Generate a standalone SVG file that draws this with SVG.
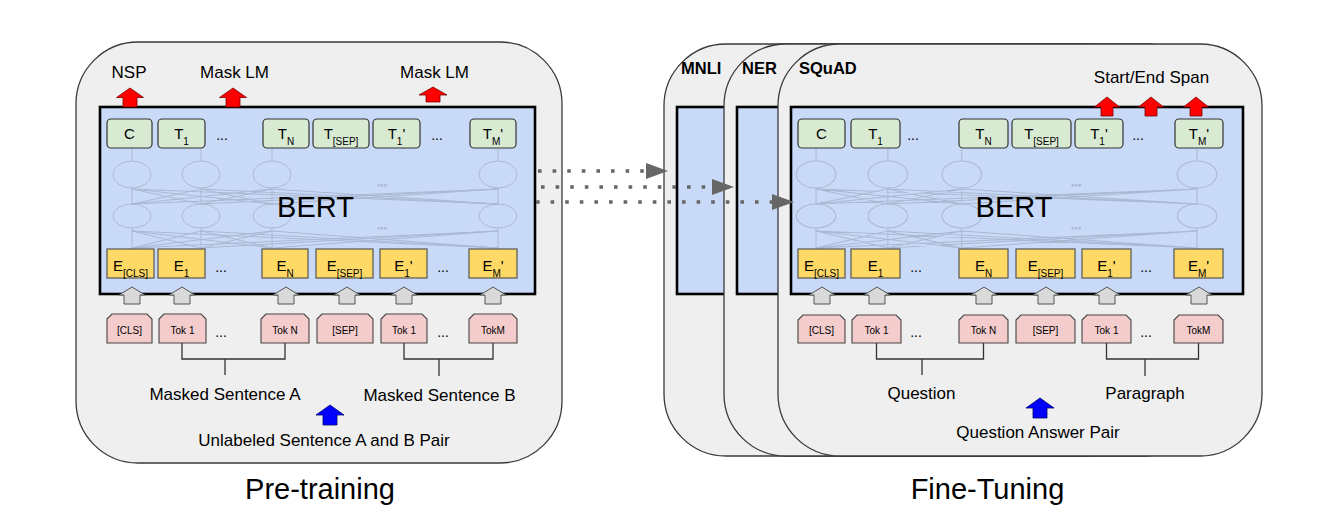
<svg xmlns="http://www.w3.org/2000/svg" width="1322" height="526" viewBox="0 0 1322 526">
<style>
text{font-family:"Liberation Sans",Arial,Helvetica,sans-serif;fill:#000}
.panel{fill:#efefef;stroke:#3a3a3a;stroke-width:1.3}
.bert{fill:#c9daf8;stroke:#000;stroke-width:2.6}
.tk{fill:#d9ead3;stroke:#333;stroke-width:1.2}
.emb{fill:#ffd966;stroke:#555;stroke-width:1.2}
.tok{fill:#f4cccc;stroke:#444;stroke-width:1.1}
.lbl{font-size:17px;text-anchor:middle}
.tl{font-size:15px;text-anchor:middle}
.sub{font-size:10px}
.pk{font-size:10px;text-anchor:middle}
.dots{font-size:14px;text-anchor:middle}
.bt{font-size:29px;text-anchor:middle}
.task{font-size:16.5px;font-weight:bold}
.cap{font-size:29px;text-anchor:middle}
.nd{font-size:12px;text-anchor:middle;fill:#aebbd4}
.red{fill:#ff0000;stroke:#7a0000;stroke-width:0.8}
.blue{fill:#0000ff;stroke:#00006e;stroke-width:0.8}
.gray{fill:#d9d9d9;stroke:#555;stroke-width:1}
.br{fill:none;stroke:#333;stroke-width:1.3}
.dot{fill:none;stroke:#666;stroke-width:3.6;stroke-dasharray:3.6 11}
</style>
<defs>
<marker id="ah" markerUnits="userSpaceOnUse" markerWidth="23" markerHeight="17" refX="0" refY="8" orient="auto"><path d="M0 0L22 8L0 16Z" fill="#666"/></marker>
<path id="redL" d="M0 0L13.5 9.5H7V19H-7V9.5H-13.5Z"/>
<path id="redL2" d="M0 0L14 8H7V15H-7V8H-14Z"/>
<path id="redR" d="M0 0L12.5 10H6V19H-6V10H-12.5Z"/>
<path id="grayA" d="M0 0L13 8H8V17H-8V8H-13Z"/>
<path id="blueA" d="M0 0L14 10H7V20H-7V10H-14Z"/>
<g id="net" fill="none" stroke="#aab8d2" stroke-width="1">
<path d="M132 248L201 231M132 248L272 231M132 248L498 231M201 248L132 231M201 248L272 231M201 248L498 231M272 248L132 231M272 248L201 231M272 248L498 231M498 248L132 231M498 248L201 231M498 248L272 231"/>
<path d="M132 204L201 189M132 204L272 189M132 204L498 189M201 204L132 189M201 204L272 189M201 204L498 189M272 204L132 189M272 204L201 189M272 204L498 189M498 204L132 189M498 204L201 189M498 204L272 189"/>
<path d="M132 249V228M201 249V228M272 249V228M498 249V228M132 204V188M201 204V188M272 204V188M498 204V188M132 161V149M201 161V149M272 161V149M498 161V149"/>
<ellipse cx="132" cy="216" rx="19" ry="12"/><ellipse cx="201" cy="216" rx="19" ry="12"/><ellipse cx="272" cy="216" rx="19" ry="12"/><ellipse cx="498" cy="216" rx="19" ry="12"/>
<ellipse cx="132" cy="174.5" rx="19" ry="13.5"/><ellipse cx="201" cy="174.5" rx="19" ry="13.5"/><ellipse cx="272" cy="174.5" rx="19" ry="13.5"/><ellipse cx="498" cy="174.5" rx="19" ry="13.5"/>
<text class="nd" x="382" y="186">...</text><text class="nd" x="382" y="229">...</text>
</g>
</defs>

<!-- Pre-training panel -->
<g id="pretrain-panel">
<rect class="panel" x="76" y="42" width="486" height="421" rx="62"/>
<text class="lbl" x="129" y="78">NSP</text>
<text class="lbl" x="234.5" y="78">Mask LM</text>
<text class="lbl" x="434.5" y="78">Mask LM</text>
<text class="lbl" x="225" y="400">Masked Sentence A</text>
<text class="lbl" x="439.5" y="401">Masked Sentence B</text>
<text class="lbl" x="324" y="446">Unlabeled Sentence A and B Pair</text>
</g>
<g id="pretrain-bert">
<rect class="bert" x="100" y="107" width="435" height="187"/>
<use href="#net"/>
<text class="bt" x="315.5" y="217">BERT</text>
</g>
<g id="pt-out">
<g id="pt-C"><rect class="tk" x="107" y="119" width="45" height="29" rx="4"/><text class="tl" x="129.5" y="139">C</text></g>
<g id="pt-T1"><rect class="tk" x="158" y="119" width="47" height="29" rx="4"/><text class="tl" x="181.5" y="139">T<tspan class="sub" dy="6">1</tspan></text></g>
<text class="dots" x="222" y="140">...</text>
<g id="pt-TN"><rect class="tk" x="263" y="119" width="46" height="29" rx="4"/><text class="tl" x="286" y="139">T<tspan class="sub" dy="6">N</tspan></text></g>
<g id="pt-TSEP"><rect class="tk" x="313" y="119" width="56" height="29" rx="4"/><text class="tl" x="341" y="139">T<tspan class="sub" dy="6">[SEP]</tspan></text></g>
<g id="pt-T1p"><rect class="tk" x="373" y="119" width="47" height="29" rx="4"/><text class="tl" x="396.5" y="139">T<tspan class="sub" dy="6">1</tspan><tspan dy="-6">'</tspan></text></g>
<text class="dots" x="437" y="140">...</text>
<g id="pt-TMp"><rect class="tk" x="470" y="119" width="46" height="29" rx="4"/><text class="tl" x="493" y="139">T<tspan class="sub" dy="6">M</tspan><tspan dy="-6">'</tspan></text></g>
</g>
<g id="pt-emb">
<g id="pt-ECLS"><rect class="emb" x="107" y="249" width="47" height="29"/><text class="tl" x="130.5" y="271">E<tspan class="sub" dy="5.5">[CLS]</tspan></text></g>
<g id="pt-E1"><rect class="emb" x="158" y="249" width="47" height="29"/><text class="tl" x="181.5" y="271">E<tspan class="sub" dy="5.5">1</tspan></text></g>
<text class="dots" x="221" y="272">...</text>
<g id="pt-EN"><rect class="emb" x="262" y="249" width="46" height="29"/><text class="tl" x="285" y="271">E<tspan class="sub" dy="5.5">N</tspan></text></g>
<g id="pt-ESEP"><rect class="emb" x="316" y="249" width="57" height="29"/><text class="tl" x="344.5" y="271">E<tspan class="sub" dy="5.5">[SEP]</tspan></text></g>
<g id="pt-E1p"><rect class="emb" x="380" y="249" width="47" height="29"/><text class="tl" x="403.5" y="271">E<tspan class="sub" dy="5.5">1</tspan><tspan dy="-5.5">'</tspan></text></g>
<text class="dots" x="443" y="272">...</text>
<g id="pt-EMp"><rect class="emb" x="469" y="249" width="48" height="29"/><text class="tl" x="493" y="271">E<tspan class="sub" dy="5.5">M</tspan><tspan dy="-5.5">'</tspan></text></g>
</g>
<g id="pt-tok">
<g id="pt-tCLS"><path class="tok" d="M107 319L112 314H147L152 319V343H107Z"/><text class="pk" x="129.5" y="334">[CLS]</text></g>
<g id="pt-tTok1"><path class="tok" d="M159 319L164 314H201L206 319V343H159Z"/><text class="pk" x="182.5" y="334">Tok 1</text></g>
<text class="dots" x="221" y="337">...</text>
<g id="pt-tTokN"><path class="tok" d="M261 319L266 314H304L309 319V343H261Z"/><text class="pk" x="285" y="334">Tok N</text></g>
<g id="pt-tSEP"><path class="tok" d="M317 319L322 314H368L373 319V343H317Z"/><text class="pk" x="345" y="334">[SEP]</text></g>
<g id="pt-tTok1b"><path class="tok" d="M381 319L386 314H422L427 319V343H381Z"/><text class="pk" x="404" y="334">Tok 1</text></g>
<text class="dots" x="443" y="337">...</text>
<g id="pt-tTokM"><path class="tok" d="M469 319L474 314H512L517 319V343H469Z"/><text class="pk" x="493" y="334">TokM</text></g>
</g>

<!-- Fine-tuning panels -->
<g id="mnli-panel">
<rect class="panel" x="664" y="44" width="484" height="412" rx="62"/>
<rect class="bert" x="677" y="107" width="452" height="187"/>
<text class="task" x="681" y="74">MNLI</text>
</g>
<g id="ner-panel">
<rect class="panel" x="724" y="44" width="484" height="412" rx="62"/>
<rect class="bert" x="737" y="107" width="452" height="187"/>
<text class="task" x="742" y="74">NER</text>
</g>
<g id="squad-panel">
<rect class="panel" x="778" y="44" width="484" height="412" rx="62"/>
<text class="task" x="799" y="74">SQuAD</text>
<text class="lbl" x="1151.5" y="83">Start/End Span</text>
<text class="lbl" x="921.5" y="399">Question</text>
<text class="lbl" x="1145" y="399">Paragraph</text>
<text class="lbl" x="1038" y="438">Question Answer Pair</text>
</g>
<g id="squad-bert">
<rect class="bert" x="791" y="107" width="452" height="187"/>
<use href="#net" transform="matrix(1.041 0 0 1 678.6 0)"/>
<text class="bt" x="1014" y="217">BERT</text>
</g>
<g id="ft-out">
<g id="ft-C"><rect class="tk" x="798" y="119" width="47" height="29" rx="4"/><text class="tl" x="821.5" y="139">C</text></g>
<g id="ft-T1"><rect class="tk" x="851" y="119" width="49" height="29" rx="4"/><text class="tl" x="875.5" y="139">T<tspan class="sub" dy="6">1</tspan></text></g>
<text class="dots" x="913" y="140">...</text>
<g id="ft-TN"><rect class="tk" x="959" y="119" width="49" height="29" rx="4"/><text class="tl" x="983.5" y="139">T<tspan class="sub" dy="6">N</tspan></text></g>
<g id="ft-TSEP"><rect class="tk" x="1012" y="119" width="59" height="29" rx="4"/><text class="tl" x="1041.5" y="139">T<tspan class="sub" dy="6">[SEP]</tspan></text></g>
<g id="ft-T1p"><rect class="tk" x="1075" y="119" width="48" height="29" rx="4"/><text class="tl" x="1099" y="139">T<tspan class="sub" dy="6">1</tspan><tspan dy="-6">'</tspan></text></g>
<text class="dots" x="1138" y="140">...</text>
<g id="ft-TMp"><rect class="tk" x="1175" y="119" width="48" height="29" rx="4"/><text class="tl" x="1199" y="139">T<tspan class="sub" dy="6">M</tspan><tspan dy="-6">'</tspan></text></g>
</g>
<g id="ft-emb">
<g id="ft-ECLS"><rect class="emb" x="798" y="249" width="47" height="29"/><text class="tl" x="821.5" y="271">E<tspan class="sub" dy="5.5">[CLS]</tspan></text></g>
<g id="ft-E1"><rect class="emb" x="851" y="249" width="49" height="29"/><text class="tl" x="875.5" y="271">E<tspan class="sub" dy="5.5">1</tspan></text></g>
<text class="dots" x="916" y="272">...</text>
<g id="ft-EN"><rect class="emb" x="959" y="249" width="49" height="29"/><text class="tl" x="983.5" y="271">E<tspan class="sub" dy="5.5">N</tspan></text></g>
<g id="ft-ESEP"><rect class="emb" x="1016" y="249" width="59" height="29"/><text class="tl" x="1045.5" y="271">E<tspan class="sub" dy="5.5">[SEP]</tspan></text></g>
<g id="ft-E1p"><rect class="emb" x="1082" y="249" width="49" height="29"/><text class="tl" x="1106.5" y="271">E<tspan class="sub" dy="5.5">1</tspan><tspan dy="-5.5">'</tspan></text></g>
<text class="dots" x="1146" y="272">...</text>
<g id="ft-EMp"><rect class="emb" x="1174" y="249" width="49" height="29"/><text class="tl" x="1198.5" y="271">E<tspan class="sub" dy="5.5">M</tspan><tspan dy="-5.5">'</tspan></text></g>
</g>
<g id="ft-tok">
<g id="ft-tCLS"><path class="tok" d="M798 320L803 315H840L845 320V343H798Z"/><text class="pk" x="821.5" y="334">[CLS]</text></g>
<g id="ft-tTok1"><path class="tok" d="M852 320L857 315H896L901 320V343H852Z"/><text class="pk" x="876.5" y="334">Tok 1</text></g>
<text class="dots" x="916" y="337">...</text>
<g id="ft-tTokN"><path class="tok" d="M959 320L964 315H1003L1008 320V343H959Z"/><text class="pk" x="983.5" y="334">Tok N</text></g>
<g id="ft-tSEP"><path class="tok" d="M1016 320L1021 315H1070L1075 320V343H1016Z"/><text class="pk" x="1045.5" y="334">[SEP]</text></g>
<g id="ft-tTok1b"><path class="tok" d="M1082 320L1087 315H1126L1131 320V343H1082Z"/><text class="pk" x="1106.5" y="334">Tok 1</text></g>
<text class="dots" x="1146" y="337">...</text>
<g id="ft-tTokM"><path class="tok" d="M1174 320L1179 315H1218L1223 320V343H1174Z"/><text class="pk" x="1198.5" y="334">TokM</text></g>
</g>

<g id="captions">
<text class="cap" x="320" y="499">Pre-training</text>
<text class="cap" x="987.5" y="499">Fine-Tuning</text>
</g>

<g id="connectors">
<path class="br" d="M182 343V359H285V343M225 359V375M404 343V359H493V343M439 359V376"/>
<path class="br" d="M876.5 343V359H983.5V343M922 359V375M1106.5 343V359H1198.5V343M1145 359V376"/>
<g class="gray">
<use href="#grayA" x="132" y="287"/><use href="#grayA" x="182" y="287"/><use href="#grayA" x="286" y="287"/><use href="#grayA" x="347" y="287"/><use href="#grayA" x="404" y="287"/><use href="#grayA" x="493" y="287"/>
<use href="#grayA" x="822" y="287"/><use href="#grayA" x="877" y="287"/><use href="#grayA" x="984" y="287"/><use href="#grayA" x="1046" y="287"/><use href="#grayA" x="1107" y="287"/><use href="#grayA" x="1199" y="287"/>
</g>
<g class="red">
<use href="#redL" x="130" y="88"/><use href="#redL" x="233" y="88"/><use href="#redL2" x="433" y="87"/>
<use href="#redR" x="1107" y="97"/><use href="#redR" x="1151" y="97"/><use href="#redR" x="1196" y="97"/>
</g>
<g class="blue">
<use href="#blueA" x="330" y="405"/><use href="#blueA" x="1040" y="398"/>
</g>
<path class="dot" d="M538 171H646" marker-end="url(#ah)"/>
<path class="dot" d="M541 187H712" marker-end="url(#ah)"/>
<path class="dot" d="M536 202H772" marker-end="url(#ah)"/>
</g>
</svg>
